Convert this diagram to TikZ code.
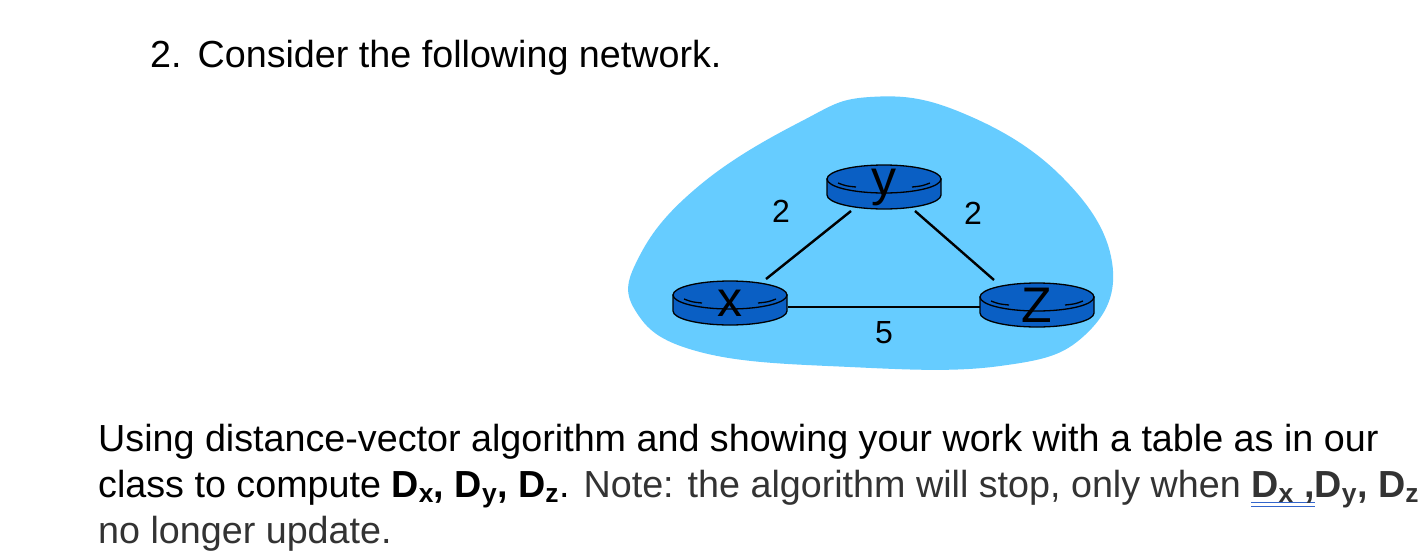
\documentclass[tikz,border=0pt]{standalone}
\usepackage{fontspec}
\setmainfont{Liberation Sans}
\usetikzlibrary{calc}
\definecolor{cloud}{HTML}{66CCFF}
\definecolor{rtr}{HTML}{0A5FC4}
\definecolor{gry}{HTML}{333333}
\definecolor{ulc}{HTML}{3366CC}
\newcommand{\dul}[1]{\setbox0\hbox{#1}\rlap{\textcolor{ulc}{\rule[-6pt]{\wd0}{1.2pt}}}\rlap{\textcolor{ulc}{\rule[-10pt]{\wd0}{1.2pt}}}\box0}
\tikzset{
  txt/.style={anchor=base west,inner sep=0pt,font=\fontsize{37.7}{44}\selectfont},
  lbl/.style={font=\fontsize{32}{38}\selectfont,inner sep=0pt},
  link/.style={line width=2.4pt},
}
\newcommand{\router}[3]{%
  \fill[rtr,draw=black,line width=1.3pt] ($(#1)+(-57,-8)$) -- ($(#1)+(-57,8)$) arc[start angle=180,end angle=0,x radius=57,y radius=14] -- ($(#1)+(57,-8)$) -- cycle;
  \fill[rtr,draw=black,line width=1.3pt] ($(#1)+(0,-8)$) ellipse[x radius=57,y radius=14];
  \draw[black,line width=1.3pt] ($(#1)+(-46,-4)$) .. controls ($(#1)+(-38,-1)$) .. ($(#1)+(-28,0)$);
  \draw[black,line width=1.3pt] ($(#1)+(46,-4)$) .. controls ($(#1)+(38,-1)$) .. ($(#1)+(28,0)$);
  \node[font=\fontsize{50}{56}\selectfont,inner sep=0pt] (#2) at ($(#1)+(0,0)$) {#3};
}
\begin{document}
\begin{tikzpicture}[x=1pt,y=-1pt]
\useasboundingbox[fill=white] (0,0) rectangle (1426,552);
\fill[cloud] plot[smooth cycle,tension=0.7] coordinates {(640,255) (700,185) (800,122) (870,97) (960,112) (1060,175) (1112,262) (1085,335) (1000,366) (850,367) (700,352) (635,310)};
\coordinate (px) at (730,303);
\coordinate (py) at (884,187);
\coordinate (pz) at (1037,305);
\draw[link] (766,279) -- (851,211);
\draw[link] (915,211) -- (994,280);
\draw[link] (788,307) -- (980,307);
\router{px}{x}{x}
\router{py}{y}{y}
\router{pz}{z}{Z}
\node[lbl] (l1) at (781,211) {2};
\node[lbl] (l2) at (973,213) {2};
\node[lbl] (l3) at (884,333) {5};
\node[txt] (t0) at (150,67) {2.\hspace{16pt}Consider the following network.};
\node[txt] (t1) at (98,451) {Using distance-vector algorithm and showing your work with a table as in our};
\node[txt] (t2) at (98,497) {class to compute \textbf{D\textsubscript{x}, D\textsubscript{y}, D\textsubscript{z}}. \textcolor{gry}{Note: the algorithm will stop, only when \dul{\textbf{D\textsubscript{x} ,}} \textbf{D\textsubscript{y}, D\textsubscript{z}}}};
\node[txt,text=gry] (t3) at (98,543) {no longer update.};
\end{tikzpicture}
\end{document}
